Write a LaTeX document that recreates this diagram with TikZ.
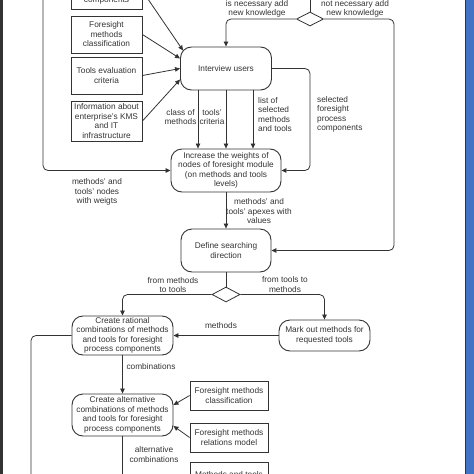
\documentclass[tikz,border=0pt]{standalone}
\usepackage{fontspec}
\setmainfont{Liberation Sans}
\usetikzlibrary{arrows.meta,shapes.geometric}
\definecolor{ink}{RGB}{51,51,51}
\definecolor{sidebar}{RGB}{68,114,196}
\tikzset{
  infobox/.style = {draw=ink, rectangle, line width=0.9pt, align=center, inner sep=1pt},
  procbox/.style = {draw=ink, rounded corners=11pt, line width=0.9pt, align=center, inner sep=1pt},
  choice/.style = {draw=ink, diamond, line width=0.8pt, inner sep=0pt},
  note/.style = {text=ink, align=center, inner sep=0pt},
  flow/.style = {draw=ink, line width=0.8pt, -{Triangle[length=5pt,width=4.5pt]}},
  plain/.style = {draw=ink, line width=0.8pt}
}
\begin{document}
\begin{tikzpicture}[x=1pt, y=-1pt, font=\fontsize{8.3}{9.5}\selectfont, text=ink]
\useasboundingbox (0,0) rectangle (474,474);
\fill[black!80] (0,0) rectangle (3,474);
\fill[sidebar] (465,0) rectangle (474,474);
\draw[black!80, line width=0.8pt] (465,0) -- (465,474);

% input boxes
\node[infobox, minimum width=71pt, minimum height=37pt] (comp) at (106.5,-9) {Foresight\\process\\components};
\node[infobox, minimum width=71pt, minimum height=37pt] (classif) at (106.5,34.5) {Foresight\\methods\\classification};
\node[infobox, minimum width=71pt, minimum height=37pt] (crit) at (106.5,75.5) {Tools evaluation\\criteria};
\node[infobox, minimum width=71pt, minimum height=40pt] (kms) at (106.5,121) {Information about\\enterprise's KMS\\and IT\\infrastructure};

% process steps
\node[procbox, minimum width=91pt, minimum height=43pt] (interview) at (226,68.5) {Interview users};
\node[procbox, minimum width=110pt, minimum height=43pt] (increase) at (226,170.5) {Increase the weights of\\nodes of foresight module\\(on methods and tools\\levels)};
\node[procbox, minimum width=90pt, minimum height=43pt] (define) at (226,250.5) {Define searching\\direction};
\node[procbox, minimum width=101pt, minimum height=39pt] (rational) at (122.5,335.5) {Create rational\\combinations of methods\\and tools for foresight\\process components};
\node[procbox, minimum width=91pt, minimum height=31pt] (markout) at (324.5,335.5) {Mark out methods for\\requested tools};
\node[procbox, minimum width=101pt, minimum height=42pt] (altern) at (122.5,415) {Create alternative\\combinations of methods\\and tools for foresight\\process components};

\node[choice, minimum width=27pt, minimum height=14pt] (needknow) at (310,19) {};
\node[choice, minimum width=28pt, minimum height=15pt] (direction) at (226,294.5) {};

\node[infobox, minimum width=78pt, minimum height=29pt] (fmclass) at (229,395.5) {Foresight methods\\classification};
\node[infobox, minimum width=78pt, minimum height=29pt] (fmrel) at (229,437.5) {Foresight methods\\relations model};
\node[infobox, minimum width=78pt, minimum height=34pt] (mtools) at (229,479) {Methods and tools\\~};

% free ends
\coordinate (toptail) at (310,-2);
\coordinate (lefttail) at (43,-2);
\coordinate (rightbend) at (394,19);
\coordinate (selbend) at (310,68.5);
\coordinate (lowleft) at (31,480);
\coordinate (lowmid) at (122.5,480);

% connectors
\draw[flow] (comp.east) -- ([xshift=3pt,yshift=18pt]interview.west);
\draw[flow] (classif.east) -- ([yshift=10pt]interview.west);
\draw[flow] (crit.east) -- (interview.west);
\draw[flow] (kms.east) -- ([yshift=-11pt]interview.west);
\draw[plain] (toptail) -- (needknow.north);
\draw[flow, rounded corners=5pt] (needknow.west) -| (interview.north);
\draw[flow, rounded corners=5pt] (needknow.east) -- (rightbend) |- (define.east);
\draw[flow, rounded corners=5pt] (interview.east) -- (selbend) |- (increase.east);
\draw[flow, rounded corners=5pt] (lefttail) |- (increase.west);
\draw[flow] ([xshift=-28pt]interview.south) -- ([xshift=-28pt]increase.north);
\draw[flow] (interview.south) -- (increase.north);
\draw[flow] ([xshift=27pt]interview.south) -- ([xshift=27pt]increase.north);
\draw[flow] (increase.south) -- (define.north);
\draw[plain] (define.south) -- (direction.north);
\draw[flow, rounded corners=5pt] (direction.west) -| (rational.north);
\draw[flow, rounded corners=5pt] (direction.east) -| (markout.north);
\draw[flow] (markout.west) -- (rational.east);
\draw[flow] (rational.south) -- (altern.north);
\draw[plain, rounded corners=5pt] (rational.west) -| (lowleft);
\draw[plain] (altern.south) -- (lowmid);
\draw[flow] (fmclass.west) -- ([yshift=10pt]altern.east);
\draw[flow] (fmrel.west) -- ([yshift=-11pt]altern.east);

% labels
\node[note] (lblneed) at (257,9) {is necessary add\\new knowledge};
\node[note] (lblnot) at (355,9) {not necessary add\\new knowledge};
\node[note, anchor=west, align=left] (lblsel) at (317,114.5) {selected\\foresight\\process\\components};
\node[note] (lblclass) at (180.5,117) {class of\\methods};
\node[note] (lblcrit) at (212,117) {tools'\\criteria};
\node[note, anchor=west, align=left] (lbllist) at (258,114.5) {list of\\selected\\methods\\and tools};
\node[note] (lblnodes) at (97,192) {methods' and\\tools' nodes\\with weigts};
\node[note] (lblapex) at (259,211.5) {methods' and\\tools' apexes with\\values};
\node[note] (lblm2t) at (173,285) {from methods\\to tools};
\node[note] (lblt2m) at (285,284.5) {from tools to\\methods};
\node[note] (lblmeth) at (221,326) {methods};
\node[note] (lblcomb) at (151,367) {combinations};
\node[note] (lblalt) at (154,454.5) {alternative\\combinations};
\end{tikzpicture}
\end{document}
